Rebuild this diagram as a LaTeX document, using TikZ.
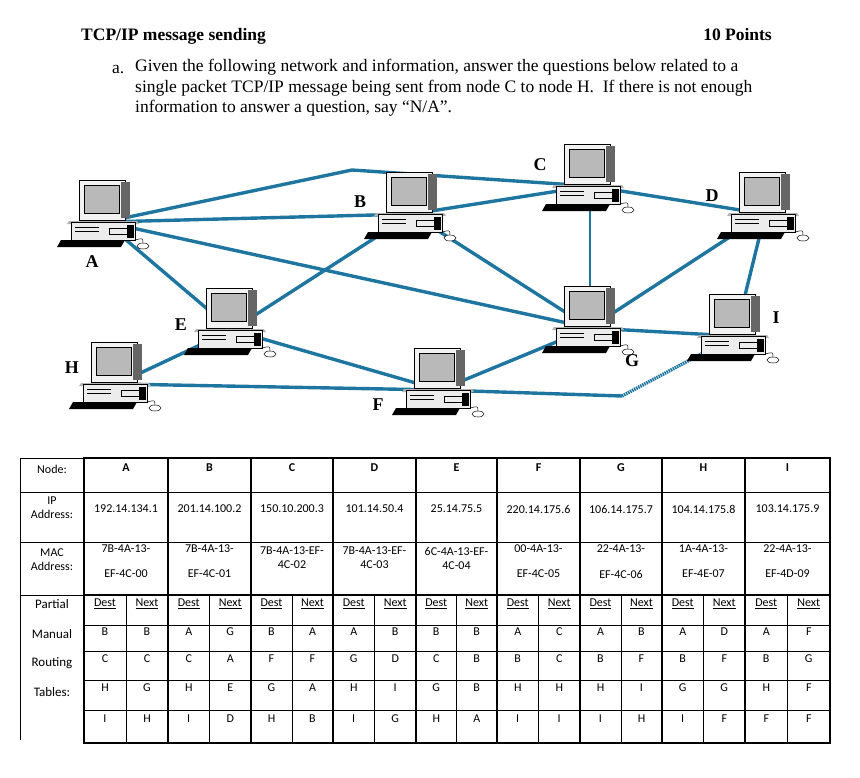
\documentclass[tikz,border=0pt]{standalone}
\usepackage{fontspec}
\setmainfont{Liberation Serif}
\newfontfamily\tabf{Carlito}
\begin{document}
\begin{tikzpicture}[x=1pt,y=-1pt,
  link/.style={draw=netblue,line width=3.4pt},
  lbl/.style={font=\bfseries\fontsize{18}{18}\selectfont},
  cell/.style={font=\tabf\fontsize{12}{14}\selectfont,align=center},
  thick line/.style={line width=2.6pt},
  thin line/.style={line width=0.8pt},
  pc/.pic={
    \fill[gray!60] (-36,-1) -- (32,-1) -- (34,2) -- (-38,2) -- cycle;
    \draw[fill=gray!15,line width=0.6pt] (-34,0) rectangle (30,18);
    \draw[line width=0.4pt] (-30,5) -- (-6,5) (-30,9) -- (-6,9) (4,6) rectangle (26,12);
    \fill[black] (22,3) rectangle (29,16);
    \draw[fill=gray!10,line width=0.6pt] (-26,-42) rectangle (20,-2);
    \fill[black!60] (16,-40) rectangle (25,-4);
    \draw[fill=gray!55,line width=0.5pt] (-21,-37) rectangle (14,-9);
    \fill[black] (-44,18) -- (20,18) -- (16,25) -- (-48,25) -- cycle;
    \draw[fill=white,line width=0.5pt] (38,24) ellipse (6 and 3);
    \draw[line width=0.5pt] (30,18) .. controls (38,16) .. (38,21);
  }]
\definecolor{netblue}{RGB}{30,118,160}
\useasboundingbox (0,0) rectangle (860,777);
% header
\node[anchor=base west,font=\bfseries\fontsize{17.5}{20}\selectfont,inner sep=0pt] (title) at (81,40) {TCP/IP message sending};
\node[anchor=base east,font=\bfseries\fontsize{17.5}{20}\selectfont,inner sep=0pt] (pts) at (772,40) {10 Points};
\node[anchor=base west,font=\fontsize{17.5}{20.5}\selectfont,inner sep=0pt] (ia) at (112,73) {a.};
\node[anchor=north west,align=left,font=\fontsize{17.5}{20.5}\selectfont,inner sep=0pt] (q) at (135,59)
 {Given the following network and information, answer the questions below related to a\\
  single packet TCP/IP message being sent from node C to node H.\ \ If there is not enough\\
  information to answer a question, say ``N/A''.};
% computer positions
\coordinate (A) at (105,222);
\coordinate (B) at (412,214);
\coordinate (C) at (590,186);
\coordinate (D) at (765,214);
\coordinate (E) at (232,330);
\coordinate (G) at (590,328);
\coordinate (I) at (735,336);
\coordinate (H) at (117,384);
\coordinate (F) at (440,390);
\coordinate (bend) at (352,170);
\coordinate (fi) at (622,396);
% links
\draw[link] (A) -- (bend) -- (C);
\draw[link] (A) -- (B);
\draw[link] (A) -- (G);
\draw[link] (A) -- (E);
\draw[link] (B) -- (C);
\draw[link] (B) -- (E);
\draw[link] (B) -- (G);
\draw[draw=netblue,line width=1.5pt] (C) -- (G);
\draw[link] (C) -- (D);
\draw[link] (D) -- (G);
\draw[link] (D) -- (I);
\draw[link] (E) -- (H);
\draw[link] (E) -- (F);
\draw[link] (H) -- (F);
\draw[link] (F) -- (G);
\draw[link] (G) -- (I);
\draw[link] (F) -- (fi);
\draw[draw=netblue,line width=3.4pt,dash pattern=on 1.5pt off 0.8pt] (fi) -- (I);
% computers
\foreach \p in {A,B,C,D,E,G,I,H,F} \pic at (\p) {pc};
% labels
\node[lbl] (lA) at (92,262) {A};
\node[lbl] (lB) at (360,202) {B};
\node[lbl] (lC) at (540,165) {C};
\node[lbl] (lD) at (712,196) {D};
\node[lbl] (lE) at (181,325) {E};
\node[lbl] (lG) at (632,361) {G};
\node[lbl] (lI) at (776,318) {I};
\node[lbl] (lH) at (72,368) {H};
\node[lbl] (lF) at (378,405) {F};
% table grid
\def\xs{84,168,251,333,416,497,580,662,745,830}
\draw[thin line] (20,458) -- (84,458) (20,492) -- (84,492) (20,542) -- (84,542) (20,458) -- (20,740);
\draw[thin line] (20,595) -- (84,595);
\foreach \y in {492,542,625,651,680,710} \draw[thin line] (84,\y) -- (830,\y);
\foreach \a/\b in {84/168,168/251,251/333,333/416,416/497,497/580,580/662,662/745,745/830}
  \draw[thin line] ({(\a+\b)/2},595) -- ({(\a+\b)/2},743);
\foreach \x in \xs \draw[thick line] (\x,458) -- (\x,743);
\draw[thick line] (83,458) -- (831,458);
\draw[thick line] (83,595) -- (831,595);
\draw[thick line] (83,743) -- (831,743);
% label column
\node[cell] (tn) at (52,469) {Node:};
\node[cell] (ti) at (52,508) {IP\\Address:};
\node[cell] (tm) at (52,560) {MAC\\Address:};
\node[cell,font=\tabf\fontsize{13}{14}\selectfont] (tp) at (52,604) {Partial};
\node[cell,font=\tabf\fontsize{13}{14}\selectfont] (tma) at (52,634) {Manual};
\node[cell,font=\tabf\fontsize{13}{14}\selectfont] (tr) at (52,663) {Routing};
\node[cell,font=\tabf\fontsize{13}{14}\selectfont] (tt) at (52,692) {Tables:};
% columns
\foreach \a/\b/\n/\ip/\macA/\macB/\two/\rA/\rB/\rC/\rD/\rE/\rF/\rG/\rH [count=\k] in {
  84/168/A/192.14.134.1/7B-4A-13-/EF-4C-00/0/B/B/C/C/H/G/I/H,
  168/251/B/201.14.100.2/7B-4A-13-/EF-4C-01/0/A/G/C/A/H/E/I/D,
  251/333/C/150.10.200.3/7B-4A-13-EF-/4C-02/1/B/A/F/F/G/A/H/B,
  333/416/D/101.14.50.4/7B-4A-13-EF-/4C-03/1/A/B/G/D/H/I/I/G,
  416/497/E/25.14.75.5/6C-4A-13-EF-/4C-04/1/B/B/C/B/G/B/H/A,
  497/580/F/220.14.175.6/00-4A-13-/EF-4C-05/0/A/C/B/C/H/H/I/I,
  580/662/G/106.14.175.7/22-4A-13-/EF-4C-06/0/A/B/B/F/H/I/I/H,
  662/745/H/104.14.175.8/1A-4A-13-/EF-4E-07/0/A/D/B/F/G/G/I/F,
  745/830/I/103.14.175.9/22-4A-13-/EF-4D-09/0/A/F/B/G/H/F/F/F}{
  \pgfmathsetmacro\cx{(\a+\b)/2}
  \pgfmathsetmacro\dx{(\a+\cx)/2}
  \pgfmathsetmacro\nx{(\cx+\b)/2}
  \node[cell,font=\tabf\bfseries\fontsize{12}{14}\selectfont] (n\k) at (\cx,468) {\n};
  \node[cell] (ip\k) at (\cx,509) {\ip};
  \ifnum\two=1
    \node[cell] (mac\k) at (\cx,558) {\macA\\\macB};
  \else
    \node[cell] (mac\k) at (\cx,549) {\macA};
    \node[cell] (macb\k) at (\cx,574) {\macB};
  \fi
  \node[cell] (d\k) at (\dx,604) {\underline{Dest}};
  \node[cell] (x\k) at (\nx,604) {\underline{Next}};
  \node[cell] (r1a\k) at (\dx,632) {\rA};
  \node[cell] (r1b\k) at (\nx,632) {\rB};
  \node[cell] (r2a\k) at (\dx,659) {\rC};
  \node[cell] (r2b\k) at (\nx,659) {\rD};
  \node[cell] (r3a\k) at (\dx,688) {\rE};
  \node[cell] (r3b\k) at (\nx,688) {\rF};
  \node[cell] (r4a\k) at (\dx,719) {\rG};
  \node[cell] (r4b\k) at (\nx,719) {\rH};
}
\end{tikzpicture}
\end{document}
